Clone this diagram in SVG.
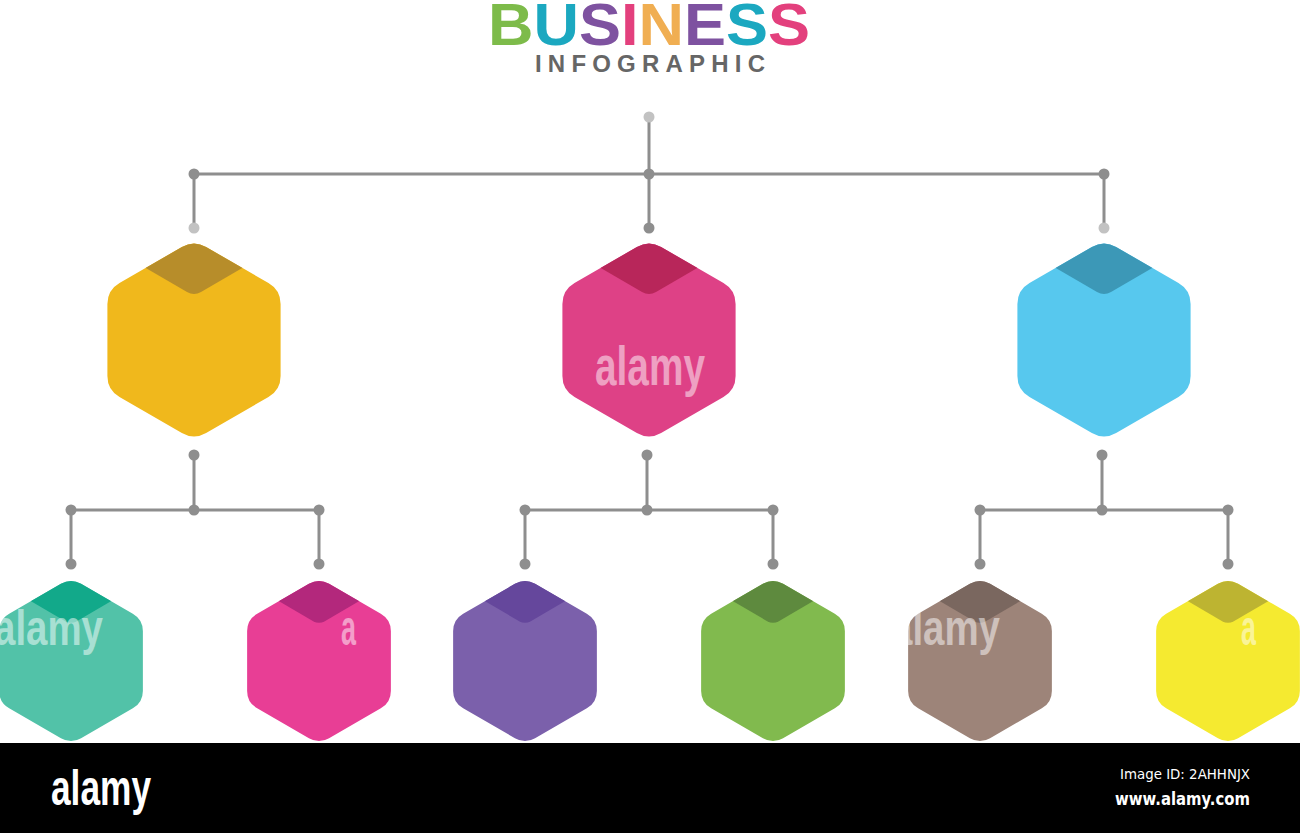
<svg xmlns="http://www.w3.org/2000/svg" xmlns:xlink="http://www.w3.org/1999/xlink" width="1300" height="833" viewBox="0 0 1300 833">
<style>
.ln{stroke:#8e8e8e;stroke-width:3;fill:none;stroke-linecap:round}
.dot{fill:#8e8e8e}
.dotl{fill:#c2c2c2}
.wm{font-family:"Liberation Sans",Arial,sans-serif;font-weight:bold;fill:#ffffff;fill-opacity:0.5}
</style>
<defs>
<path id="hex" d="M -12.12,-93 Q 0,-100 12.12,-93 L 74.48,-57 Q 86.6,-50 86.6,-36 L 86.6,36 Q 86.6,50 74.48,57 L 12.12,93 Q 0,100 -12.12,93 L -74.48,57 Q -86.6,50 -86.6,36 L -86.6,-36 Q -86.6,-50 -74.48,-57 Z"/>
<path id="cap" d="M -62,-80 L -7,-48 Q 0,-44 7,-48 L 62,-80 L 0,-125 Z"/>
<clipPath id="hc" clipPathUnits="userSpaceOnUse"><use xlink:href="#hex" href="#hex"/></clipPath>
</defs>
<rect width="1300" height="833" fill="#ffffff"/>
<g id="title">
<text x="649" y="45" text-anchor="middle" font-family="'Liberation Sans',Arial,sans-serif" font-weight="bold" font-size="59" textLength="322" lengthAdjust="spacingAndGlyphs"><tspan fill="#7dbb4a">B</tspan><tspan fill="#1ba8c0">U</tspan><tspan fill="#7e52a0">S</tspan><tspan fill="#e3407d">I</tspan><tspan fill="#f0ae52">N</tspan><tspan fill="#7e52a0">E</tspan><tspan fill="#1ba8c0">S</tspan><tspan fill="#e3407d">S</tspan></text>
<text x="650" y="72" text-anchor="middle" font-family="'Liberation Sans',Arial,sans-serif" font-weight="bold" font-size="24" fill="#666666" textLength="230" lengthAdjust="spacing">INFOGRAPHIC</text>
</g>
<g id="connectors">
<path class="ln" d="M649,117 V174 M194,174 H1104 M194,174 V228 M649,174 V228 M1104,174 V228"/>
<path class="ln" d="M194,455 V510 M71,510 H319 M71,510 V564 M319,510 V564"/>
<path class="ln" d="M647,455 V510 M525,510 H773 M525,510 V564 M773,510 V564"/>
<path class="ln" d="M1102,455 V510 M980,510 H1228 M980,510 V564 M1228,510 V564"/>
<circle class="dotl" cx="649" cy="117" r="5.5"/>
<circle class="dot" cx="194" cy="174" r="5.5"/>
<circle class="dot" cx="649" cy="174" r="5.5"/>
<circle class="dot" cx="1104" cy="174" r="5.5"/>
<circle class="dotl" cx="194" cy="228" r="5.5"/>
<circle class="dot" cx="649" cy="228" r="5.5"/>
<circle class="dotl" cx="1104" cy="228" r="5.5"/>
<circle class="dot" cx="194" cy="455" r="5.5"/>
<circle class="dot" cx="71" cy="510" r="5.5"/>
<circle class="dot" cx="194" cy="510" r="5.5"/>
<circle class="dot" cx="319" cy="510" r="5.5"/>
<circle class="dot" cx="71" cy="564" r="5.5"/>
<circle class="dot" cx="319" cy="564" r="5.5"/>
<circle class="dot" cx="647" cy="455" r="5.5"/>
<circle class="dot" cx="525" cy="510" r="5.5"/>
<circle class="dot" cx="647" cy="510" r="5.5"/>
<circle class="dot" cx="773" cy="510" r="5.5"/>
<circle class="dot" cx="525" cy="564" r="5.5"/>
<circle class="dot" cx="773" cy="564" r="5.5"/>
<circle class="dot" cx="1102" cy="455" r="5.5"/>
<circle class="dot" cx="980" cy="510" r="5.5"/>
<circle class="dot" cx="1102" cy="510" r="5.5"/>
<circle class="dot" cx="1228" cy="510" r="5.5"/>
<circle class="dot" cx="980" cy="564" r="5.5"/>
<circle class="dot" cx="1228" cy="564" r="5.5"/>
</g>
<g id="node-yellow" transform="translate(194,340)">
<use href="#hex" xlink:href="#hex" fill="#f0b81c"/>
<use href="#cap" xlink:href="#cap" fill="#b78d2a" clip-path="url(#hc)"/>
</g>
<g id="node-pink" transform="translate(649,340)">
<use href="#hex" xlink:href="#hex" fill="#de4186"/>
<use href="#cap" xlink:href="#cap" fill="#b8265a" clip-path="url(#hc)"/>
</g>
<g id="node-blue" transform="translate(1104,340)">
<use href="#hex" xlink:href="#hex" fill="#57c8ee"/>
<use href="#cap" xlink:href="#cap" fill="#3c98b7" clip-path="url(#hc)"/>
</g>
<g id="node-teal" transform="translate(71,661) scale(0.83)">
<use href="#hex" xlink:href="#hex" fill="#52c2a8"/>
<use href="#cap" xlink:href="#cap" fill="#12a98a" clip-path="url(#hc)"/>
</g>
<g id="node-magenta" transform="translate(319,661) scale(0.83)">
<use href="#hex" xlink:href="#hex" fill="#e83e95"/>
<use href="#cap" xlink:href="#cap" fill="#b3287c" clip-path="url(#hc)"/>
</g>
<g id="node-purple" transform="translate(525,661) scale(0.83)">
<use href="#hex" xlink:href="#hex" fill="#7b60ab"/>
<use href="#cap" xlink:href="#cap" fill="#65479c" clip-path="url(#hc)"/>
</g>
<g id="node-green" transform="translate(773,661) scale(0.83)">
<use href="#hex" xlink:href="#hex" fill="#81ba4e"/>
<use href="#cap" xlink:href="#cap" fill="#5e8a3e" clip-path="url(#hc)"/>
</g>
<g id="node-brown" transform="translate(980,661) scale(0.83)">
<use href="#hex" xlink:href="#hex" fill="#9d8479"/>
<use href="#cap" xlink:href="#cap" fill="#7a675f" clip-path="url(#hc)"/>
</g>
<g id="node-lemon" transform="translate(1228,661) scale(0.83)">
<use href="#hex" xlink:href="#hex" fill="#f5ea30"/>
<use href="#cap" xlink:href="#cap" fill="#bdb431" clip-path="url(#hc)"/>
</g>
<g id="watermarks">
<text class="wm" x="595" y="385" font-size="56" textLength="110" lengthAdjust="spacingAndGlyphs">alamy</text>
<text class="wm" x="-6" y="645" font-size="50" textLength="109" lengthAdjust="spacingAndGlyphs">alamy</text>
<text class="wm" x="891" y="645" font-size="50" textLength="109" lengthAdjust="spacingAndGlyphs">alamy</text>
<text class="wm" x="341" y="645" font-size="50" textLength="15" lengthAdjust="spacingAndGlyphs">a</text>
<text class="wm" x="1241" y="645" font-size="50" textLength="15" lengthAdjust="spacingAndGlyphs">a</text>
</g>
<g id="footer">
<rect x="0" y="743" width="1300" height="90" fill="#000000"/>
<text x="51" y="805" font-family="'Liberation Sans',Arial,sans-serif" font-weight="bold" font-size="50" fill="#ffffff" textLength="100" lengthAdjust="spacingAndGlyphs">alamy</text>
<text x="1250" y="779" text-anchor="end" font-family="'DejaVu Sans',sans-serif" font-size="14" fill="#ffffff" textLength="130" lengthAdjust="spacingAndGlyphs">Image ID: 2AHHNJX</text>
<text x="1250" y="805" text-anchor="end" font-family="'DejaVu Sans',sans-serif" font-weight="bold" font-size="17" fill="#ffffff" textLength="135" lengthAdjust="spacingAndGlyphs">www.alamy.com</text>
</g>
</svg>
